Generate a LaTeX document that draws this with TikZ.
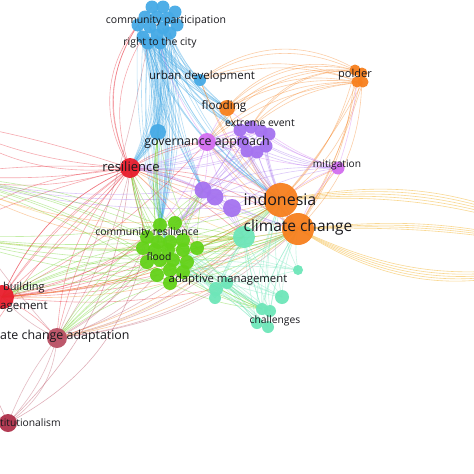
\documentclass[tikz,border=0pt]{standalone}
\usepackage{fontspec}
\setmainfont{Open Sans}
\definecolor{cred}{RGB}{232,30,45}
\definecolor{corange}{RGB}{247,128,30}
\definecolor{cyel}{RGB}{245,185,60}
\definecolor{cblue}{RGB}{70,170,230}
\definecolor{cpurple}{RGB}{165,115,240}
\definecolor{cpink}{RGB}{210,110,240}
\definecolor{cgreen}{RGB}{100,210,25}
\definecolor{cteal}{RGB}{110,230,185}
\definecolor{crose}{RGB}{185,80,100}
\definecolor{cdred}{RGB}{175,50,75}
\definecolor{ctext}{RGB}{25,25,30}
\tikzset{
  lk/.style={draw=#1, draw opacity=0.38, line width=0.6pt},
  lbl/.style={font=\fontsize{#1pt}{#1pt}\selectfont, text=ctext, inner sep=0pt},
}
\def\nodelist{b1/152/7/6.5/cblue, b2/163/7/6.5/cblue, b3/175/12/6.5/cblue, b4/145/17/6.5/cblue,
 b5/157/17/6.5/cblue, b6/168/18/6.5/cblue, b7/138/25/6.5/cblue, b8/150/27/6.5/cblue,
 b9/163/28/6.5/cblue, b10/177/25/6.5/cblue, b11/143/37/6.5/cblue, b12/157/35/6.5/cblue,
 b13/170/33/6.5/cblue, b14/148/43/6.5/cblue, b15/160/43/6.5/cblue,
 ud/200/80/6/cblue, gb/158/132/8/cblue,
 p1/355/70/5.5/corange, p2/362/73/5.5/corange, p3/357/82/5.5/corange, p4/363/82/5.5/corange,
 fl/227/108/8/corange,
 e1/240/130/6.5/cpurple, e2/251/127/6.5/cpurple, e3/261/131/6.5/cpurple, e4/269/134/6.5/cpurple,
 e5/243/142/6.5/cpurple, e6/247/151/6.5/cpurple, e7/257/152/6.5/cpurple, e8/266/146/6.5/cpurple,
 gov/207/142/9/cpink, mit/338/168/6.5/cpink,
 pl1/203/190/8.5/cpurple, pl2/215/197/8.5/cpurple, pl3/232/208/9/cpurple,
 res/130/168/10/cred, bld/2/297/12/cred, cca/57/338/10/crose, ins/8/423/9/cdred,
 tb/244/237/11/cteal,
 t1/298/270/5/cteal, t2/216/289/7/cteal, t3/227/283/6/cteal, t4/215/298/6/cteal, t5/282/297/7/cteal,
 t6/262/309/6/cteal, t7/270/311/6/cteal, t8/257/323/6/cteal, t9/268/327/6/cteal,
 g1/160/225/7/cgreen, g2/175/223/7/cgreen, g3/147/237/7/cgreen, g4/158/242/7/cgreen,
 g5/170/242/7/cgreen, g6/183/240/7/cgreen, g7/143/248/7/cgreen, g8/155/250/7/cgreen,
 g9/168/250/7/cgreen, g10/183/250/7/cgreen, g11/197/248/7/cgreen, g12/147/262/7/cgreen,
 g13/160/260/7/cgreen, g14/173/260/7/cgreen, g15/187/262/7/cgreen, g16/157/275/7/cgreen,
 g17/170/270/7/cgreen, g18/183/272/7/cgreen, g19/170/283/7/cgreen,
 ind/281/200/17/corange, cc/298/229/16/corange}
\begin{document}
\begin{tikzpicture}[x=1pt,y=1pt]
\useasboundingbox (0,0) rectangle (474,-474);
\fill[white] (0,0) rectangle (474,-474);
\clip (0,0) rectangle (474,-474);
% positions
\foreach \n/\x/\y/\r/\c in \nodelist { \coordinate (\n) at (\x,-\y); }
\coordinate (R1) at (570,-240);
\coordinate (R2) at (570,-250);
\coordinate (R3) at (560,-262);
\coordinate (L1) at (-60,-120);
\coordinate (L2) at (-60,-175);
\coordinate (L3) at (-60,-235);
\coordinate (L4) at (-40,-380);
% ---- links ----
% blue
\foreach \s in {b11,b12,b14,b15,b8,b9,b13,b7}
  \foreach \t/\bb in {res/22, gb/6, g4/8, g9/-10, pl1/-8, e1/-14, ind/-18, fl/-12, ud/-10, g1/14, res/34}
    \draw[lk=cblue] (\s) to[bend left=\bb] (\t);
% red from resilience
\foreach \t/\bb in {L1/10, L1/-4, L1/20, L2/-5, L2/6, L2/14, L3/-15, L3/-5, bld/-20, bld/-8, bld/4, cca/-10, cca/-20, b7/30, b11/25, b4/38, b1/34,
   g7/10, g3/-6, ind/10, cc/14, gov/15, e5/15, pl1/5, tb/10, g11/8, L4/-8}
  \draw[lk=cred] (res) to[bend left=\bb] (\t);
% red from building
\foreach \t/\bb in {g8/-10, g12/-8, ind/-15, cc/-12, res/10, res/20, tb/-10, L3/5, cca/10, pl2/-12, L4/10, g1/-14, t2/-8, g16/-4, g3/-18, gov/-10}
  \draw[lk=cred] (bld) to[bend left=\bb] (\t);
% rose from climate change adaptation
\foreach \t/\bb in {ins/12, ins/-8, ins/25, g16/-15, g12/-10, res/-10, ind/-20, tb/-15, b14/-6, bld/10, t2/-10, g19/-8, cc/-18, L2/6, g7/-20}
  \draw[lk=crose] (cca) to[bend left=\bb] (\t);
\foreach \t/\bb in {res/-20, g3/-25, L4/5, L2/10}
  \draw[lk=cdred] (ins) to[bend left=\bb] (\t);
% orange / yellow, long bundles to the right
\foreach \bb in {11,13,15,17,19}
  \draw[lk=cyel, draw opacity=0.55] (ind) to[bend left=\bb] (R1);
\foreach \bb in {6,7.5,9,10.5}
  \draw[lk=cyel, draw opacity=0.55] (cc) to[bend left=\bb] (R2);
\foreach \bb in {-18,-20,-22,-24,-26}
  \draw[lk=cyel, draw opacity=0.55] (cc) to[bend left=\bb] (R3);
\foreach \s in {ind,cc}
  \foreach \t/\bb in {p1/-15, p3/-10, p2/-22, p4/-6, fl/10, res/10, g9/10, bld/15, L2/20, mit/6, cca/14, ud/12, gov/8}
    \draw[lk=corange] (\s) to[bend left=\bb] (\t);
\foreach \s in {fl,ud,gov,e2}
  \foreach \t/\bb in {p1/28, p3/22, p2/35, p4/16}
    \draw[lk=corange] (\s) to[bend left=\bb] (\t);
\foreach \t/\bb in {res/12, L3/8, cca/16, bld/10, g3/6, L2/12}
  \draw[lk=cyel] (tb) to[bend left=\bb] (\t);
% purple / pink
\foreach \t/\bb in {e1/5, e2/8, e3/-6, e4/10, e5/-5, e6/6, e7/-8, e8/4, ind/-10, cc/-14, mit/-8, res/10, pl1/8, b12/10, fl/6, tb/-6, g1/10, g6/-6}
  \draw[lk=cpink] (gov) to[bend left=\bb] (\t);
\foreach \s in {e1,e3,e5,e7,e8}
  \foreach \t/\bb in {ind/-8, cc/-10, mit/-10, pl1/8, res/12, g2/10}
    \draw[lk=cpurple] (\s) to[bend left=\bb] (\t);
\foreach \s in {pl1,pl2,pl3}
  \foreach \t/\bb in {ind/6, cc/-6, g5/-8, tb/5, res/-10, mit/12, L2/8}
    \draw[lk=cpurple] (\s) to[bend left=\bb] (\t);
\foreach \t/\bb in {ind/-10, cc/-12, e4/8, fl/12, p3/-6}
  \draw[lk=cpink] (mit) to[bend left=\bb] (\t);
% green
\foreach \s in {g1,g4,g9,g13,g17,g11,g19}
  \foreach \t/\bb in {cca/-10, bld/-10, res/10, ind/-10, cc/-15, tb/5, t6/-10, L3/5, pl1/5, L2/-8, gb/8}
    \draw[lk=cgreen] (\s) to[bend left=\bb] (\t);
% teal
\foreach \s in {t1,t2,t4,t5,t6,t7,t8,t9}
  \foreach \t/\bb in {cc/10, ind/12, tb/5, g14/-5, g10/-5, g18/-8, t3/4}
    \draw[lk=cteal] (\s) to[bend left=\bb] (\t);
% ---- circles ----
\foreach \n/\x/\y/\r/\c in \nodelist { \fill[\c, fill opacity=0.95] (\n) circle (\r); }
% ---- labels ----
\node[lbl=10.5] (lcp) at (166,-21) {community participation};
\node[lbl=10.4] (lrc) at (160,-43) {right to the city};
\node[lbl=11.5] (lud) at (202,-77) {urban development};
\node[lbl=11] (lpo) at (355,-75) {polder};
\node[lbl=11.7] (lfl) at (224,-106) {flooding};
\node[lbl=10.4] (lee) at (260,-123) {extreme event};
\node[lbl=12.4] (lga) at (207,-142) {governance approach};
\node[lbl=13] (lre) at (131,-167) {resilience};
\node[lbl=10.2] (lmi) at (337,-165) {mitigation};
\node[lbl=16] (lin) at (280,-199) {indonesia};
\node[lbl=15.5] (lcc) at (298,-227) {climate change};
\node[lbl=10.4] (lcr) at (147,-233) {community resilience};
\node[lbl=10.3] (lfd) at (159,-257) {flood};
\node[lbl=11.3] (lam) at (228,-280) {adaptive management};
\node[lbl=10.3] (lch) at (275,-321) {challenges};
\node[lbl=11, anchor=west] (lbu) at (3,-288) {building};
\node[lbl=11.5, anchor=west] (lag) at (0,-307) {agement};
\node[lbl=12.4, anchor=west] (lca) at (0,-336) {ate change adaptation};
\node[lbl=10.3, anchor=west] (lti) at (0,-423) {titutionalism};
\end{tikzpicture}
\end{document}
